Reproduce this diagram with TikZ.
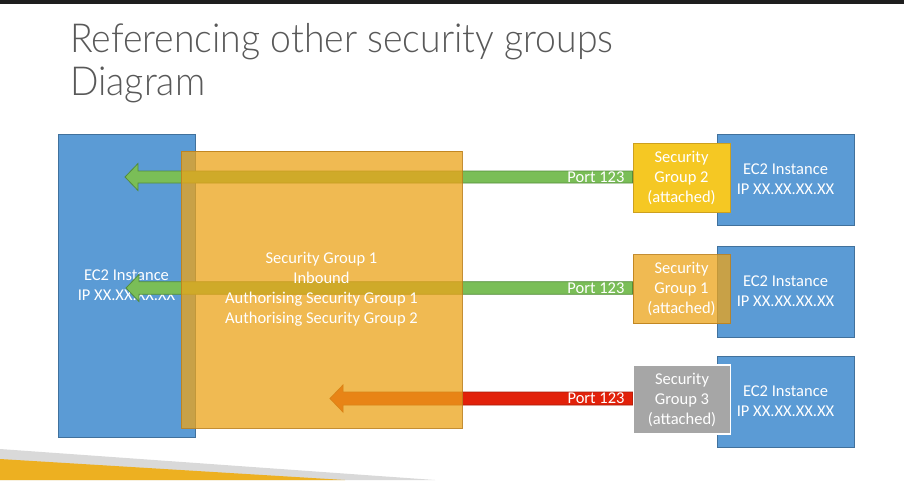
\documentclass[tikz,border=0pt]{standalone}
\usepackage{fontspec}
\setmainfont{Carlito}
\newfontfamily\titlefont{Lato Light}
\usetikzlibrary{calc}
\pgfdeclarelayer{bglayer}
\pgfdeclarelayer{arrowlayer}
\pgfsetlayers{bglayer,arrowlayer,main}
\definecolor{ec2blue}{RGB}{91,155,213}
\definecolor{ec2edge}{RGB}{65,113,156}
\definecolor{sgorange}{RGB}{235,164,27}
\definecolor{sgorangeedge}{RGB}{190,130,30}
\definecolor{sgyellow}{RGB}{245,200,35}
\definecolor{sgyellowedge}{RGB}{205,160,30}
\definecolor{sggray}{RGB}{166,166,166}
\definecolor{okgreen}{RGB}{122,190,87}
\definecolor{okgreenedge}{RGB}{84,140,60}
\definecolor{badred}{RGB}{226,33,10}
\definecolor{badrededge}{RGB}{165,30,10}
\definecolor{titlegray}{RGB}{89,89,89}
\definecolor{barblack}{RGB}{30,30,30}
\definecolor{wedgegray}{RGB}{217,217,217}
\definecolor{wedgeyellow}{RGB}{237,176,33}
\begin{document}
\begin{tikzpicture}[x=1pt,y=-1pt,
  body/.style={font=\fontsize{16.5}{20}\selectfont, text=white, align=center, inner sep=0pt},
  ec2/.style={body, fill=ec2blue, draw=ec2edge, line width=0.8pt},
  sgbox/.style={body, minimum width=97, minimum height=69, line width=0.8pt},
  orangebox/.style={fill=sgorange, fill opacity=0.76, text opacity=1, draw=sgorangeedge, draw opacity=0.9},
  fatarrow/.style={line width=0.8pt, line join=miter},
  portlabel/.style={body, anchor=east},
  titletext/.style={anchor=base west, inner sep=0pt, text=titlegray, font=\titlefont\fontsize{40}{43}\selectfont}
]
\useasboundingbox (0,0) rectangle (904,480);

% background layer: decorations and EC2 instances
\begin{pgfonlayer}{bglayer}
\fill[wedgegray] (0,449) -- (435,480) -- (0,480) -- cycle;
\fill[wedgeyellow] (0,459) -- (345,480) -- (0,480) -- cycle;
\fill[barblack] (0,0) rectangle (904,4);
\node[ec2, minimum width=137, minimum height=303] (ec2L) at (126.5,285.5) {EC2 Instance\\IP XX.XX.XX.XX};
\node[ec2, minimum width=137, minimum height=91] (ec2A) at (785.5,179.5) {EC2 Instance\\IP XX.XX.XX.XX};
\node[ec2, minimum width=137, minimum height=91] (ec2B) at (785.5,291.5) {EC2 Instance\\IP XX.XX.XX.XX};
\node[ec2, minimum width=137, minimum height=91] (ec2C) at (785.5,401.5) {EC2 Instance\\IP XX.XX.XX.XX};
\end{pgfonlayer}

% title
\node[titletext] (title1) at (70,52) {\resizebox{543pt}{\height}{Referencing other security groups}};
\node[titletext] (title2) at (70,95) {\resizebox{135pt}{\height}{Diagram}};

% security groups
\node[body, orangebox, minimum width=281, minimum height=277] (sgMain) at (321.5,289.5)
  {Security Group 1\\Inbound\\Authorising Security Group 1\\Authorising Security Group 2};
\node[sgbox, fill=sgyellow, draw=sgyellowedge] (sgA) at (681.5,177.5) {Security\\Group 2\\(attached)};
\node[sgbox, orangebox] (sgB) at (681.5,289) {Security\\Group 1\\(attached)};
\node[sgbox, fill=sggray, draw=white, line width=1.5pt] (sgC) at (682,399.5) {Security\\Group 3\\(attached)};

% arrow tips
\coordinate (tipA) at (125,177);
\coordinate (tipB) at (126,288);
\coordinate (tipC) at (330,398.5);

\begin{pgfonlayer}{arrowlayer}
\draw[fatarrow, fill=okgreen, draw=okgreenedge]
  ($(tipA -| sgA.west)+(0,-6)$) -- ($(tipA)+(13,-6)$) -- ($(tipA)+(13,-13.5)$) -- (tipA)
  -- ($(tipA)+(13,13.5)$) -- ($(tipA)+(13,6)$) -- ($(tipA -| sgA.west)+(0,6)$) -- cycle;
\draw[fatarrow, fill=okgreen, draw=okgreenedge]
  ($(tipB -| sgB.west)+(0,-6.3)$) -- ($(tipB)+(13,-6.3)$) -- ($(tipB)+(13,-13.5)$) -- (tipB)
  -- ($(tipB)+(13,13.5)$) -- ($(tipB)+(13,6.3)$) -- ($(tipB -| sgB.west)+(0,6.3)$) -- cycle;
\draw[fatarrow, fill=badred, draw=badrededge]
  ($(tipC -| sgC.west)+(0,-6.5)$) -- ($(tipC)+(13,-6.5)$) -- ($(tipC)+(13,-13.5)$) -- (tipC)
  -- ($(tipC)+(13,13.5)$) -- ($(tipC)+(13,6.5)$) -- ($(tipC -| sgC.west)+(0,6.5)$) -- cycle;
\end{pgfonlayer}

% port labels
\node[portlabel] (portA) at ($(tipA -| sgA.west)+(-8,0)$) {Port 123};
\node[portlabel] (portB) at ($(tipB -| sgB.west)+(-8,0)$) {Port 123};
\node[portlabel] (portC) at ($(tipC -| sgC.west)+(-8,0)$) {Port 123};
\end{tikzpicture}
\end{document}
